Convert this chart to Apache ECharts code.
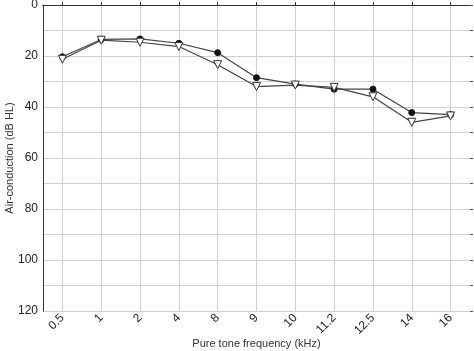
<!DOCTYPE html>
<html>
<head>
<meta charset="utf-8">
<style>
  html, body { margin: 0; padding: 0; background: #fff; }
  #chart1 { width: 474px; height: 351px; }
</style>
<script src="https://cdn.jsdelivr.net/npm/echarts@6/dist/echarts.min.js"></script>
</head>
<body>
<div id="chart1"></div>
<script>
// frequencies (kHz)
var freqs = ['0.5', '1', '2', '4', '8', '9', '10', '11.2', '12.5', '14', '16'];
// air-conduction thresholds, dB HL
var dotValues = [20.3, 13.5, 13.3, 15, 18.7, 28.5, 31, 33, 33, 42.2, 43];
var triValues = [21.3, 13.8, 14.6, 16.3, 23.4, 32, 31.4, 32.3, 36, 46, 43.5];

var yMin = 0, yMax = 120, yStep = 10;

var mychart = echarts.init(document.getElementById('chart1'));

var lineColor = '#444';
var gridColor = '#d0d0d0';
var font = 'Liberation Sans, Arial, sans-serif';

var option = {
    animation: false,
    grid: { left: 43, top: 5, right: 4, bottom: 40, containLabel: false, outerBoundsMode: 'none' },
    xAxis: [{
        type: 'category',
        data: freqs,
        boundaryGap: true,
        name: 'Pure tone frequency (kHz)',
        nameLocation: 'middle',
        nameGap: 27,
        nameMoveOverlap: false,
        nameTextStyle: { fontFamily: font, fontSize: 11, color: '#333' },
        axisLine: { lineStyle: { color: '#333', width: 1 } },
        axisTick: { show: true, inside: true, length: 3, alignWithLabel: true, lineStyle: { color: '#333' } },
        axisLabel: { rotate: 45, fontFamily: font, fontSize: 12, color: '#222', margin: 5 },
        splitLine: { show: true, alignWithLabel: true, lineStyle: { color: gridColor } }
    }, {
        type: 'category',
        data: freqs,
        position: 'top',
        axisLine: { lineStyle: { color: '#333', width: 1 } },
        axisTick: { show: false },
        axisLabel: { show: false },
        splitLine: { show: false }
    }],
    yAxis: [{
        type: 'value',
        inverse: true,
        min: yMin,
        max: yMax,
        interval: yStep,
        name: 'Air-conduction (dB HL)',
        nameLocation: 'middle',
        nameGap: 28,
        nameMoveOverlap: false,
        nameTextStyle: { fontFamily: font, fontSize: 11, color: '#333' },
        axisLine: { show: true, lineStyle: { color: '#333', width: 1 } },
        axisTick: { show: false },
        axisLabel: {
            fontFamily: font, fontSize: 12, color: '#222', margin: 5,
            formatter: function (v) { return v % 20 === 0 ? String(v) : ''; }
        },
        splitLine: { show: true, lineStyle: { color: gridColor } }
    }, {
        type: 'value',
        inverse: true,
        min: yMin,
        max: yMax,
        interval: yStep,
        position: 'right',
        axisLine: { show: false },
        axisTick: { show: true, length: 3, lineStyle: { color: '#555' } },
        axisLabel: { show: false },
        splitLine: { show: false }
    }],
    series: [{
        name: 'dot',
        type: 'line',
        data: dotValues,
        symbol: 'circle',
        symbolSize: 6,
        itemStyle: { color: '#111', borderColor: '#111', borderWidth: 1 },
        lineStyle: { color: lineColor, width: 1.2 },
        z: 2
    }, {
        name: 'triangle',
        type: 'line',
        data: triValues,
        symbol: 'triangle',
        symbolRotate: 180,
        symbolSize: 8,
        itemStyle: { color: '#fff', borderColor: '#333', borderWidth: 1 },
        lineStyle: { color: lineColor, width: 1.2 },
        z: 3
    }]
};

mychart.setOption(option);
</script>
</body>
</html>
